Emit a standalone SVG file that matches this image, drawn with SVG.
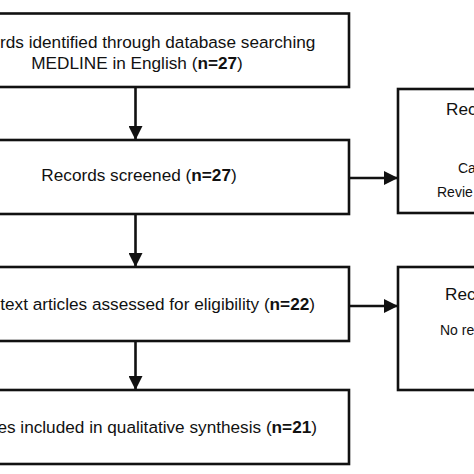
<svg xmlns="http://www.w3.org/2000/svg" width="474" height="474" viewBox="0 0 474 474">
<style>
.box{fill:#fff;stroke:#111;stroke-width:2.6}
.t{font-family:"Liberation Sans",Arial,sans-serif;font-size:17.2px;fill:#111}
.s{font-family:"Liberation Sans",Arial,sans-serif;font-size:14px;fill:#111}
.b{font-weight:bold}
.c{stroke:#111;stroke-width:2.6;fill:none}
</style>
<defs>
<marker id="ah" markerWidth="14" markerHeight="14" viewBox="0 0 14 14" refX="14" refY="7" orient="auto" markerUnits="userSpaceOnUse">
<path d="M0,0 L14,7 L0,14 Z" fill="#111"/>
</marker>
</defs>
<rect width="474" height="474" fill="#fff"/>
<g id="connectors">
<line class="c" x1="135.5" y1="87" x2="135.5" y2="140" marker-end="url(#ah)"/>
<line class="c" x1="135.5" y1="214" x2="135.5" y2="267" marker-end="url(#ah)"/>
<line class="c" x1="135.5" y1="341" x2="135.5" y2="390" marker-end="url(#ah)"/>
<line class="c" x1="349" y1="178" x2="398" y2="178" marker-end="url(#ah)"/>
<line class="c" x1="349" y1="306" x2="398" y2="306" marker-end="url(#ah)"/>
</g>
<g id="identified">
<rect class="box" x="-78" y="13.5" width="427" height="73.5"/>
<text class="t" x="0" y="48">rds identified through database searching</text>
<text class="t" x="137" y="69" text-anchor="middle">MEDLINE in English (<tspan class="b">n=27</tspan>)</text>
</g>
<g id="screened">
<rect class="box" x="-78" y="140" width="427" height="74"/>
<text class="t" x="139" y="181" text-anchor="middle">Records screened (<tspan class="b">n=27</tspan>)</text>
</g>
<g id="excluded1">
<rect class="box" x="398" y="89" width="100" height="124"/>
<text class="t" x="446" y="115">Rec</text>
<text class="s" x="458" y="173">Ca</text>
<text class="s" x="437" y="197">Revie</text>
</g>
<g id="eligibility">
<rect class="box" x="-78" y="267" width="427" height="74"/>
<text class="t" x="315" y="310" text-anchor="end">text articles assessed for eligibility (<tspan class="b">n=22</tspan>)</text>
</g>
<g id="excluded2">
<rect class="box" x="398" y="267" width="100" height="123"/>
<text class="t" x="445" y="300">Rec</text>
<text class="s" x="440" y="335">No re</text>
</g>
<g id="included">
<rect class="box" x="-78" y="390" width="427" height="74"/>
<text class="t" x="317" y="433" text-anchor="end">es included in qualitative synthesis (<tspan class="b">n=21</tspan>)</text>
</g>
</svg>
